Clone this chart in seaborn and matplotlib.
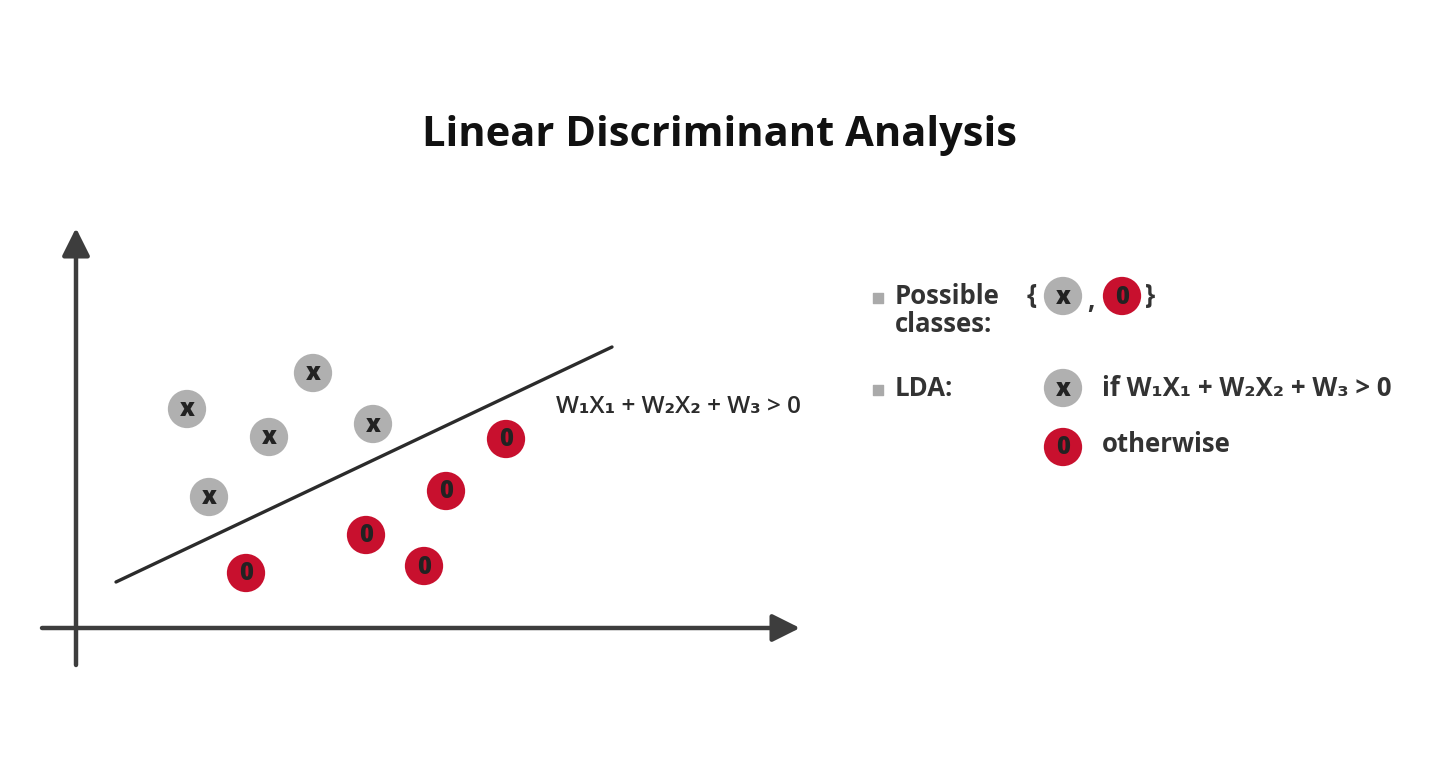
import matplotlib
matplotlib.use("Agg")
import matplotlib.pyplot as plt
import seaborn as sns
import pandas as pd

sns.set_theme(style="white")
plt.rcParams['font.family'] = ['Open Sans', 'DejaVu Sans']

# ---- data (chart units; origin at the axes crossing) ----
class_x_x = [11.1, 23.7, 19.3, 29.7, 13.3]
class_x_y = [21.9, 25.5, 19.1, 20.4, 13.1]
class_o_x = [43.0, 37.0, 29.0, 34.8, 17.0]
class_o_y = [18.9, 13.7, 9.3, 6.2, 5.5]
boundary_x = [4.0, 53.6]
boundary_y = [4.6, 28.1]
class_labels = ["x", "0"]
title = "Linear Discriminant Analysis"
equation = "W\u2081X\u2081 + W\u2082X\u2082 + W\u2083 > 0"

GRAY = "#b0b0b0"
RED = "#c8102e"
DARK = "#333333"
AXIS = "#3d3d3d"

df = pd.DataFrame({
    "x": class_x_x + class_o_x,
    "y": class_x_y + class_o_y,
    "cls": [class_labels[0]] * len(class_x_x) + [class_labels[1]] * len(class_o_x),
})

W, H = 1440, 774
fig = plt.figure(figsize=(W / 100, H / 100), dpi=100)
ax = fig.add_axes([0, 0, 1, 1])
# 1 chart unit = 10 px, origin at pixel (76, 628)
ax.set_xlim(-7.6, 136.4)
ax.set_ylim(-14.6, 62.8)
ax.axis("off")

def P(px, py):
    return ((px - 76) / 10.0, (628 - py) / 10.0)

# axes with arrows
ax.annotate("", xy=(0, 40.0), xytext=(0, -3.7),
            arrowprops=dict(arrowstyle="-|>,head_length=1.4,head_width=0.7",
                            lw=3.2, color=AXIS, shrinkA=0, shrinkB=0))
ax.annotate("", xy=(72.4, 0), xytext=(-3.4, 0),
            arrowprops=dict(arrowstyle="-|>,head_length=1.4,head_width=0.7",
                            lw=3.2, color=AXIS, shrinkA=0, shrinkB=0))

# decision boundary
sns.lineplot(x=boundary_x, y=boundary_y, ax=ax, color="#2b2b2b", lw=2.4)

# points
sns.scatterplot(data=df, x="x", y="y", hue="cls",
                palette={class_labels[0]: GRAY, class_labels[1]: RED},
                s=760, edgecolor="none", legend=False, ax=ax, zorder=3)
for _, r in df.iterrows():
    ax.text(r.x, r.y - 0.1, r.cls, ha="center", va="center",
            fontsize=17, fontweight="heavy", color="#222222", zorder=4)

# equation label
ax.text(*P(556, 407), equation, ha="left", va="center",
        fontsize=17.5, fontweight=600, color="#2b2b2b")

# title
ax.text(*P(720, 135), title, ha="center", va="center",
        fontsize=30, fontweight="bold", color="#111111")

# legend panel
def circle(px, py, color, label):
    cx, cy = P(px, py)
    ax.scatter([cx], [cy], s=760, color=color, edgecolor="none", zorder=3)
    ax.text(cx, cy - 0.1, label, ha="center", va="center",
            fontsize=17, fontweight="heavy", color="#222222", zorder=4)

LF = 18.5
ax.scatter(*P(878, 298), marker="s", s=60, color="#aaaaaa")
ax.scatter(*P(878, 390), marker="s", s=60, color="#aaaaaa")
ax.text(*P(895, 296), "Possible", ha="left", va="center",
        fontsize=LF, fontweight="bold", color=DARK)
ax.text(*P(895, 325), "classes:", ha="left", va="center",
        fontsize=LF, fontweight="bold", color=DARK)
ax.text(*P(895, 388), "LDA:", ha="left", va="center",
        fontsize=LF, fontweight="bold", color=DARK)
ax.text(*P(1032, 296), "{", ha="center", va="center",
        fontsize=LF, fontweight="bold", color=DARK)
circle(1063, 296, GRAY, class_labels[0])
ax.text(*P(1091, 302), ",", ha="center", va="center",
        fontsize=LF, fontweight="bold", color=DARK)
circle(1122, 296, RED, class_labels[1])
ax.text(*P(1150, 296), "}", ha="center", va="center",
        fontsize=LF, fontweight="bold", color=DARK)
circle(1063, 388, GRAY, class_labels[0])
ax.text(*P(1102, 388), "if " + equation, ha="left", va="center",
        fontsize=LF, fontweight="bold", color=DARK)
circle(1063, 447, RED, class_labels[1])
ax.text(*P(1102, 445), "otherwise", ha="left", va="center",
        fontsize=LF, fontweight="bold", color=DARK)

fig.savefig("out.png", dpi=100, facecolor="white")
